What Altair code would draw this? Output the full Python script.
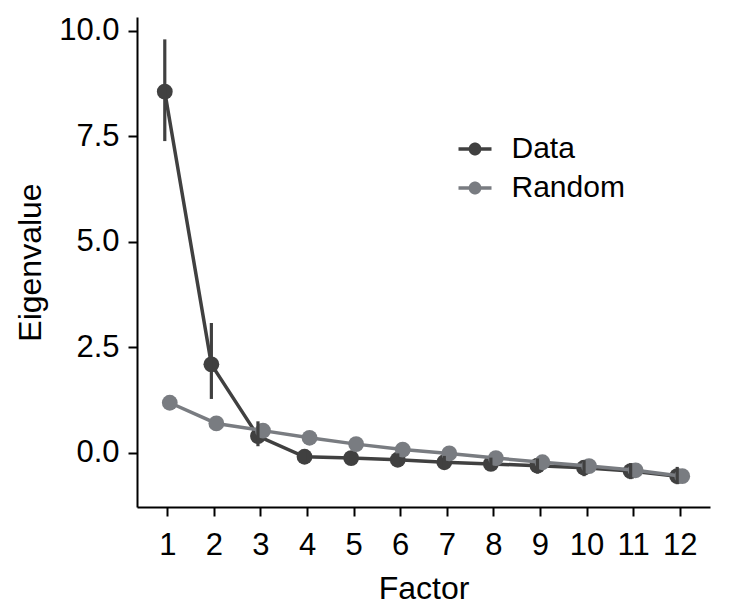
import math
import altair as alt
import pandas as pd

# ---- data ----
factors = list(range(1, 13))
data_vals = [8.55, 2.09, 0.39, -0.10, -0.13, -0.17, -0.23, -0.27, -0.31, -0.36, -0.44, -0.56]
data_lo = [7.38, 1.27, 0.15, -0.25, -0.28, -0.32, -0.38, -0.42, -0.50, -0.56, -0.63, -0.75]
data_hi = [9.79, 3.07, 0.74, 0.05, 0.02, -0.02, -0.08, -0.12, -0.14, -0.18, -0.25, -0.34]
random_vals = [1.18, 0.69, 0.52, 0.35, 0.20, 0.07, -0.02, -0.13, -0.23, -0.32, -0.42, -0.56]
series = ["Data", "Random"]
colors = ["#404040", "#797c81"]
y_ticks = [0, 2.5, 5, 7.5, 10]

data_df = pd.DataFrame({"Factor": factors, "Eigenvalue": data_vals,
                        "lo": data_lo, "hi": data_hi, "Type": series[0]})
rand_df = pd.DataFrame({"Factor": factors, "Eigenvalue": random_vals, "Type": series[1]})


def legend_path(r=0.39, h=0.11, n=20):
    """line-with-dot legend glyph as a single outline (unit coords)."""
    a0 = math.asin(h / r)
    pts = [(-1, -h)]
    for i in range(n + 1):
        t = (math.pi - a0) + (a0 - (math.pi - a0)) * i / n
        pts.append((r * math.cos(t), -r * math.sin(t)))
    pts += [(1, -h), (1, h)]
    for i in range(n + 1):
        t = -a0 + (-(math.pi - a0) + a0) * i / n
        pts.append((r * math.cos(t), -r * math.sin(t)))
    pts.append((-1, h))
    return "M" + " L".join(f"{x:.3f},{y:.3f}" for x, y in pts) + " Z"


FONT = "Liberation Sans"
xscale = alt.Scale(domain=[0.35, 12.65], nice=False, zero=False)
yscale = alt.Scale(domain=[-1.29, 10.32], nice=False, zero=False)
cscale = alt.Scale(domain=series, range=colors)

axis_common = dict(grid=False, tickSize=9, tickWidth=2, domainWidth=2,
                   domainColor="black", tickColor="black", labelFontSize=31,
                   labelColor="black", labelFont=FONT, titleFont=FONT,
                   titleFontSize=32, titleFontWeight="normal", titleColor="black")

x_enc = alt.X("Factor:Q", scale=xscale,
              axis=alt.Axis(values=factors, format="d", labelPadding=14,
                            titlePadding=13, title="Factor", **axis_common))
y_enc = alt.Y("Eigenvalue:Q", scale=yscale,
              axis=alt.Axis(values=y_ticks, format=".1f", labelPadding=9,
                            titlePadding=11, title="Eigenvalue", **axis_common))

legend = alt.Legend(title=None, orient="none", legendX=321.5, legendY=115.5,
                    symbolType=legend_path(), symbolSize=1089, symbolStrokeWidth=0,
                    symbolOpacity=1, labelFontSize=30, labelFont=FONT,
                    labelColor="black", labelOffset=20, rowPadding=7, padding=0)

c_legend = alt.Color("Type:N", scale=cscale, legend=legend)

data_line = alt.Chart(data_df).mark_line(strokeWidth=3.5, xOffset=-2.5, color=colors[0]).encode(
    x=x_enc, y=y_enc)
data_pts = alt.Chart(data_df).mark_point(filled=True, size=250, opacity=1, xOffset=-2.5).encode(
    x=x_enc, y=y_enc, color=c_legend)
rand_line = alt.Chart(rand_df).mark_line(strokeWidth=3.5, xOffset=2.5, color=colors[1]).encode(
    x=x_enc, y=y_enc)
rand_pts = alt.Chart(rand_df).mark_point(filled=True, size=250, opacity=1, xOffset=2.5).encode(
    x=x_enc, y=y_enc, color=c_legend)
bars = alt.Chart(data_df).mark_rule(strokeWidth=3.2, xOffset=-2.5, color=colors[0]).encode(
    x=x_enc, y=alt.Y("lo:Q", scale=yscale), y2="hi:Q")

chart = alt.layer(data_line, data_pts, rand_line, rand_pts, bars).properties(
    width=573, height=490,
    autosize=alt.AutoSizeParams(type="none"),
    padding={"left": 129, "top": 9, "right": 8, "bottom": 98},
    background="white",
).configure_view(stroke=None)

chart.save("out.html", embed_options={"renderer": "svg", "actions": False})
